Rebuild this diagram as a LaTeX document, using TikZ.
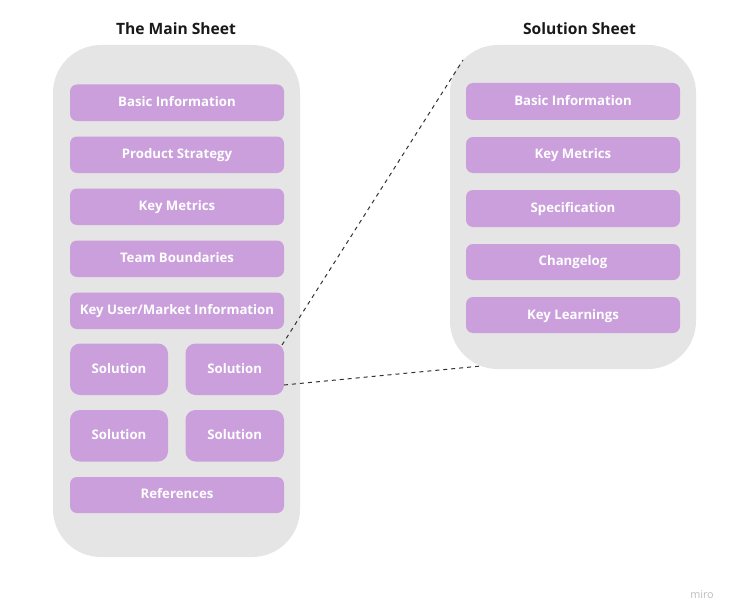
\documentclass[tikz,border=0pt]{standalone}
\usepackage{fontspec}
\setmainfont{Open Sans}
\definecolor{panelgray}{HTML}{E5E5E5}
\definecolor{boxpurple}{HTML}{CA9FDC}
\definecolor{dashgray}{HTML}{333333}
\definecolor{marklabel}{HTML}{BDBDBD}
\tikzset{
  x=1pt,y=-1pt,
  panel/.style={fill=panelgray,rounded corners=48pt},
  boxshape/.style={fill=boxpurple,rounded corners=7pt},
  solshape/.style={fill=boxpurple,rounded corners=10pt},
  lbl/.style={font=\bfseries\fontsize{13.2}{16}\selectfont,text=white,anchor=base,inner sep=0pt},
  ttl/.style={font=\bfseries\fontsize{15.6}{19}\selectfont,text=black!90,anchor=base,inner sep=0pt},
  conn/.style={draw=dashgray,line width=1pt,dash pattern=on 4pt off 4pt},
}
\begin{document}
\begin{tikzpicture}
\useasboundingbox (0,0) rectangle (730,615);
\fill[white] (0,0) rectangle (730,615);
% panels
\fill[panel] (53,45) rectangle (300,557);
\fill[panel] (450,45) rectangle (696,369);
% titles
\node[ttl] (t1) at (176,35) {The Main Sheet};
\node[ttl] (t2) at (579.5,35) {Solution Sheet};
% main boxes
\fill[boxshape] (70,84.5) rectangle (284,121);
\node[lbl] (m1) at (177,106.5) {Basic Information};
\fill[boxshape] (70,136.5) rectangle (284,173);
\node[lbl] (m2) at (177,158.5) {Product Strategy};
\fill[boxshape] (70,188.5) rectangle (284,225);
\node[lbl] (m3) at (177,210.5) {Key Metrics};
\fill[boxshape] (70,240.5) rectangle (284,277);
\node[lbl] (m4) at (177,262.5) {Team Boundaries};
\fill[boxshape] (70,292.5) rectangle (284,329);
\node[lbl] (m5) at (177,314.5) {Key User/Market Information};
\fill[solshape] (70,343.5) rectangle (168,395);
\node[lbl] (s1) at (119,373) {Solution};
\fill[solshape] (185.5,343.5) rectangle (284,395);
\node[lbl] (s2) at (234.7,373) {Solution};
\fill[solshape] (70,410) rectangle (168,461.5);
\node[lbl] (s3) at (119,439.5) {Solution};
\fill[solshape] (185.5,410) rectangle (284,461.5);
\node[lbl] (s4) at (234.7,439.5) {Solution};
\fill[boxshape] (70,477) rectangle (284,513);
\node[lbl] (m6) at (177,498) {References};
% solution sheet boxes
\fill[boxshape] (466,83) rectangle (680,120);
\node[lbl] (r1) at (573,105.5) {Basic Information};
\fill[boxshape] (466,137) rectangle (680,173);
\node[lbl] (r2) at (573,158.5) {Key Metrics};
\fill[boxshape] (466,190) rectangle (680,227);
\node[lbl] (r3) at (573,212) {Specification};
\fill[boxshape] (466,244) rectangle (680,280);
\node[lbl] (r4) at (573,265) {Changelog};
\fill[boxshape] (466,297) rectangle (680,333);
\node[lbl] (r5) at (573,319) {Key Learnings};
% connectors
\coordinate (sa) at (282,345);
\coordinate (sb) at (284,385);
\coordinate (pa) at (463,60);
\coordinate (pb) at (481,366);
\draw[conn] (sa) -- (pa);
\draw[conn] (sb) -- (pb);
\node[font=\fontsize{10.8}{12}\selectfont,text=marklabel,inner sep=0pt] (miro) at (702,595) {miro};
\end{tikzpicture}
\end{document}
